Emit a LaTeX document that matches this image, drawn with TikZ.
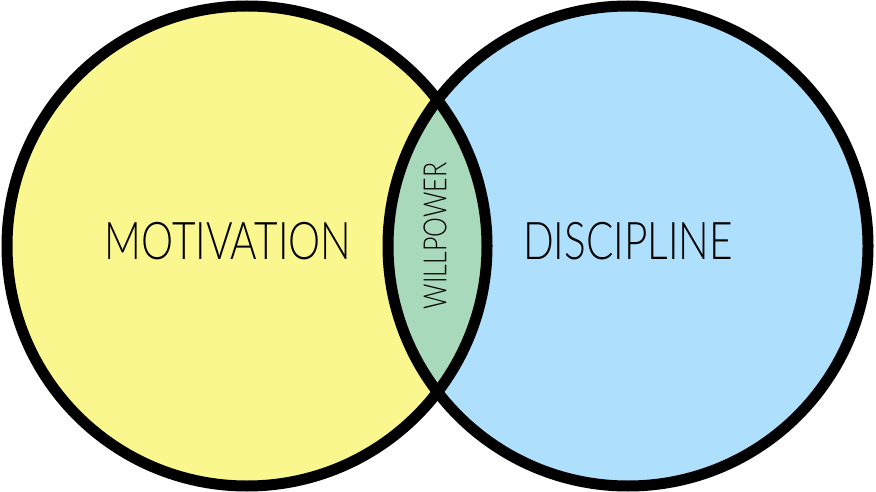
\documentclass[tikz,border=0pt]{standalone}
\usepackage{fontspec}
\setmainfont{Lato}[UprightFont=* Light,FakeStretch=0.78]
\definecolor{motiv}{HTML}{FAF78F}
\definecolor{disc}{HTML}{AEDFFC}
\definecolor{will}{HTML}{A8D9BA}
\tikzset{
  ring/.style={line width=11pt,draw=black},
  big label/.style={font=\fontsize{52}{54}\selectfont},
  small label/.style={font=\fontsize{32}{34}\selectfont,rotate=90}
}
\begin{document}
\begin{tikzpicture}[x=1pt,y=-1pt]
  \useasboundingbox (0,0) rectangle (876,492);
  % fills
  \fill[motiv] (247,246) circle (240);
  \fill[disc] (628,246) circle (240);
  \begin{scope}
    \clip (247,246) circle (240);
    \fill[will] (628,246) circle (240);
  \end{scope}
  % outlines
  \draw[ring] (247,246) circle (240);
  \draw[ring] (628,246) circle (240);
  % labels
  \node[big label] (motivation) at (228,241) {MOTIVATION};
  \node[big label] (discipline) at (628,241) {DISCIPLINE};
  \node[small label] (willpower) at (435,236) {WILLPOWER};
\end{tikzpicture}
\end{document}
